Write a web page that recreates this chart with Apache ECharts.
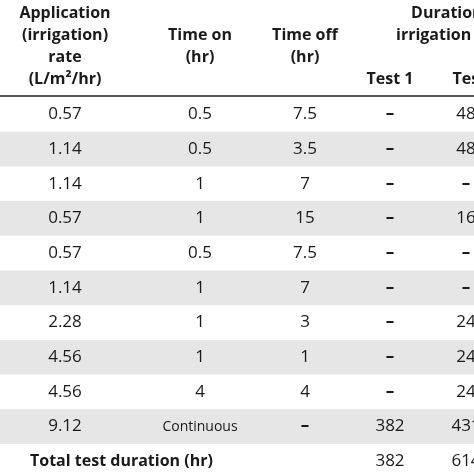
<!DOCTYPE html>
<html><head><meta charset="utf-8">
<script src="https://cdn.jsdelivr.net/npm/echarts@6/dist/echarts.min.js"></script>
<style>html,body{margin:0;padding:0;background:#fff;overflow:hidden}#c{width:474px;height:474px}</style>
</head><body><div id="c"></div>
<script>
// table values
const rates = ['0.57', '1.14', '1.14', '0.57', '0.57', '1.14', '2.28', '4.56', '4.56', '9.12'];
const timeOn = ['0.5', '0.5', '1', '1', '0.5', '1', '1', '1', '4', 'Continuous'];
const timeOff = ['7.5', '3.5', '7', '15', '7.5', '7', '3', '1', '4', '–'];
const test1 = ['–', '–', '–', '–', '–', '–', '–', '–', '–', '382'];
const test2 = ['48', '48', '–', '16', '–', '–', '24', '24', '24', '431'];
const totalLabel = 'Total test duration (hr)';
const totals = ['382', '614'];
const headers = [
  ['Application', '(irrigation)', 'rate', '(L/m²/hr)'],
  ['Time on', '(hr)'],
  ['Time off', '(hr)']
];
const durationHeader = ['Duration of each', 'irrigation period (hr)'];
const testHeaders = ['Test 1', 'Test 2'];

// layout
const colX = [65, 200, 305, 390, 466];
const headH = 97, rowH = 34.7;
const FONT = '"Open Sans", Lato, sans-serif';

const chart = echarts.init(document.getElementById('c'));
const rows = rates.map((r, i) => [i, r, timeOn[i], timeOff[i], test1[i], test2[i]]);
rows.push([rates.length, totalLabel, '', '', totals[0], totals[1]]);

function txt(x, y, s, opt) {
  return { type: 'text', x: x, y: y, style: Object.assign({
    text: s, fill: '#1a1a1a', font: '17px ' + FONT, align: 'center', verticalAlign: 'middle'
  }, opt || {}) };
}

const option = {
  animation: false,
  grid: { left: 0, right: 0, top: 0, bottom: 0 },
  xAxis: { type: 'value', min: 0, max: 474, show: false },
  yAxis: { type: 'value', min: 0, max: 474, inverse: true, show: false },
  series: [{
    type: 'custom',
    data: rows,
    clip: false,
    renderItem: function (params, api) {
      const i = api.value(0);
      const row = rows[params.dataIndex];
      const top = api.coord([0, headH + i * rowH]);
      const bot = api.coord([474, headH + (i + 1) * rowH]);
      const cy = (top[1] + bot[1]) / 2;
      const kids = [];
      if (i % 2 === 1 && i < rates.length) {
        kids.push({ type: 'rect', shape: { x: top[0], y: top[1], width: bot[0] - top[0], height: bot[1] - top[1] },
          style: { fill: '#e6e6e6' } });
      }
      const dash = s => s === '–' ? { font: 'bold 17px ' + FONT } : {};
      if (i === rates.length) {
        kids.push(txt(api.coord([30, 0])[0], cy, row[1], { align: 'left', font: 'bold 16px ' + FONT }));
      } else {
        kids.push(txt(api.coord([colX[0], 0])[0], cy, row[1]));
        kids.push(txt(api.coord([colX[1], 0])[0], cy, row[2], row[2].length > 4 ? { font: '14px ' + FONT } : {}));
        kids.push(txt(api.coord([colX[2], 0])[0], cy, row[3], dash(row[3])));
      }
      kids.push(txt(api.coord([colX[3], 0])[0], cy, row[4], dash(row[4])));
      kids.push(txt(api.coord([colX[4], 0])[0], cy, row[5], dash(row[5])));
      if (i === 0) {
        const hb = { font: 'bold 16px ' + FONT };
        headers.forEach((lines, c) => {
          const start = lines.length === 4 ? 13 : 35;
          lines.forEach((s, k) => kids.push(txt(api.coord([colX[c], 0])[0], api.coord([0, start + k * 22])[1], s, hb)));
        });
        durationHeader.forEach((s, k) => kids.push(txt(api.coord([478, 0])[0], api.coord([0, 13 + k * 22])[1], s, hb)));
        testHeaders.forEach((s, k) => kids.push(txt(api.coord([colX[3 + k] + (k ? 10 : 0), 0])[0], api.coord([0, 79])[1], s, hb)));
        kids.push({ type: 'line', shape: { x1: 0, y1: top[1] - 1, x2: 474, y2: top[1] - 1 },
          style: { stroke: '#555', lineWidth: 2 } });
      }
      return { type: 'group', children: kids };
    }
  }]
};
chart.setOption(option);
</script>
</body></html>
